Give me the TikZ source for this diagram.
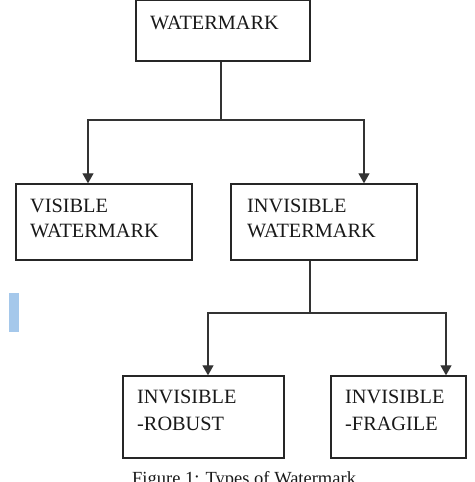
\documentclass[tikz,border=0pt]{standalone}
\usepackage{fontspec}
\setmainfont{Liberation Serif}
\usetikzlibrary{arrows.meta}
\definecolor{hilite}{RGB}{165,200,235}
\begin{document}
\begin{tikzpicture}[x=1pt,y=1pt,
  box/.style={draw=black!85,line width=1.4pt,rectangle,inner sep=0pt},
  lbl/.style={anchor=base west,inner sep=0pt,font=\fontsize{20.3}{24}\selectfont,text=black!90},
  conn/.style={draw=black!80,line width=1.3pt},
  arr/.style={conn,-{Triangle[length=10pt,width=11pt]}}]
\useasboundingbox (0,0) rectangle (474,-482);
\fill[white] (0,0) rectangle (474,-482);
% boxes
\node[box,minimum width=174pt,minimum height=61pt] (w) at (223,-30.5) {};
\node[box,minimum width=176pt,minimum height=76pt] (v) at (104,-222) {};
\node[box,minimum width=186pt,minimum height=76pt] (iw) at (324,-222) {};
\node[box,minimum width=161pt,minimum height=82pt] (ir) at (203.5,-417) {};
\node[box,minimum width=135pt,minimum height=82pt] (if) at (398.5,-417) {};
% texts
\node[lbl] (tw) at (150,-29) {WATERMARK};
\node[lbl] (tv1) at (30,-212) {VISIBLE};
\node[lbl] (tv2) at (30,-237) {WATERMARK};
\node[lbl] (ti1) at (247,-212) {INVISIBLE};
\node[lbl] (ti2) at (247,-237) {WATERMARK};
\node[lbl] (tr1) at (137,-403) {INVISIBLE};
\node[lbl] (tr2) at (137,-430) {-ROBUST};
\node[lbl] (tf1) at (345,-403) {INVISIBLE};
\node[lbl] (tf2) at (345,-430) {-FRAGILE};
% connectors
\coordinate (j1) at (221,-120);
\coordinate (va) at (88,-184);
\coordinate (ia) at (364,-184);
\draw[conn] (w.south -| j1) -- (j1);
\draw[arr] (j1) -| (v.north -| va);
\draw[arr] (j1) -| (iw.north -| ia);
\coordinate (j2) at (310,-313);
\coordinate (ra) at (208,-376);
\coordinate (fa) at (446,-376);
\draw[conn] (iw.south -| j2) -- (j2);
\draw[arr] (j2) -| (ir.north -| ra);
\draw[arr] (j2) -| (if.north -| fa);
% highlight mark
\fill[hilite] (9,-293) rectangle (19,-332);
% caption (cut off at bottom, as in the reference)
\node[anchor=base west,inner sep=0pt,font=\fontsize{18.5}{22}\selectfont,text=black!90] (cap) at (132,-484) {Figure 1: Types of Watermark};
\end{tikzpicture}
\end{document}
